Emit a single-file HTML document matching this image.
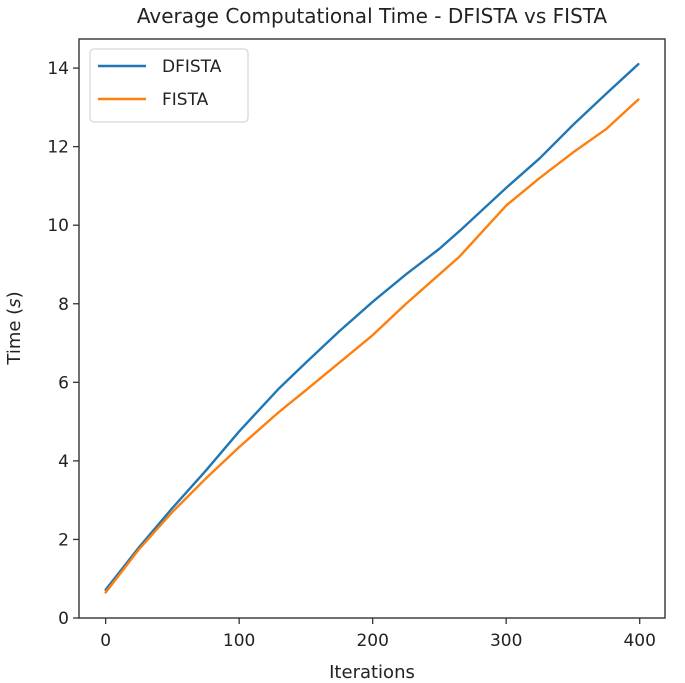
<!DOCTYPE html>
<html><head><meta charset="utf-8"><style>
body{margin:0;background:#fff;}
svg{display:block;font-family:"DejaVu Sans","Liberation Sans",sans-serif;}
</style></head><body>
<svg id="chart" width="685" height="683">
<text x="372" y="23" font-size="20" text-anchor="middle" fill="#222">Average Computational Time - DFISTA vs FISTA</text>
<g id="axes"></g>
<text x="372" y="678" font-size="18" text-anchor="middle" fill="#222">Iterations</text>
<text x="0" y="0" font-size="18" text-anchor="middle" fill="#222" transform="translate(20,328) rotate(-90)">Time (<tspan font-style="italic">s</tspan>)</text>
</svg>
<script>
const xTicks=[0,100,200,300,400];
const yTicks=[0,2,4,6,8,10,12,14];
const iters=[0,25,50,75,100,130,150,175,200,225,250,265,300,325,350,375,399];
const dfista=[0.72,1.8,2.8,3.75,4.75,5.85,6.5,7.3,8.05,8.75,9.4,9.85,10.95,11.7,12.55,13.35,14.1];
const fista=[0.65,1.75,2.7,3.55,4.35,5.25,5.8,6.5,7.2,8.0,8.75,9.2,10.5,11.2,11.85,12.45,13.2];
const L=79,R=665,T=39,B=618;
const xMin=-19.95,xMax=418.95,yMin=0,yMax=14.74;
const sx=v=>L+(v-xMin)/(xMax-xMin)*(R-L);
const sy=v=>B-(v-yMin)/(yMax-yMin)*(B-T);
const ns="http://www.w3.org/2000/svg";
const g=document.getElementById('axes');
function mk(t,a){const e=document.createElementNS(ns,t);for(const k in a)e.setAttribute(k,a[k]);g.appendChild(e);return e;}
[[dfista,'#1f77b4','line-dfista'],[fista,'#ff7f0e','line-fista']].forEach(([s,c,n])=>{
 const p=mk('polyline',{points:s.map((v,i)=>sx(iters[i])+','+sy(v)).join(' '),fill:'none',stroke:c,'stroke-width':2.4,'stroke-linejoin':'round','stroke-linecap':'round'});
 
 
});
const fr=mk('rect',{x:L,y:T,width:R-L,height:B-T,fill:'none',stroke:'#333','stroke-width':1.4});


xTicks.forEach(v=>{
 mk('line',{x1:sx(v),x2:sx(v),y1:B,y2:B+6,stroke:'#333','stroke-width':1.3});
 const t=mk('text',{x:sx(v),y:B+28,'font-size':17,'text-anchor':'middle',fill:'#222'});t.textContent=v;
 
 
});
yTicks.forEach(v=>{
 mk('line',{x1:L-6,x2:L,y1:sy(v),y2:sy(v),stroke:'#333','stroke-width':1.3});
 const t=mk('text',{x:L-10,y:sy(v)+6,'font-size':17,'text-anchor':'end',fill:'#222'});t.textContent=v;
 
 
});
const lg=mk('rect',{x:90,y:49,width:158,height:73,rx:4,fill:'#fff',stroke:'#ccc','stroke-width':1});


[['DFISTA','#1f77b4',66],['FISTA','#ff7f0e',99]].forEach(([n,c,y])=>{
 mk('line',{x1:98,x2:146,y1:y,y2:y,stroke:c,'stroke-width':2.4});
 const t=mk('text',{x:162,y:y+6,'font-size':17,fill:'#222'});t.textContent=n;
 
 
});
</script>
</body></html>
